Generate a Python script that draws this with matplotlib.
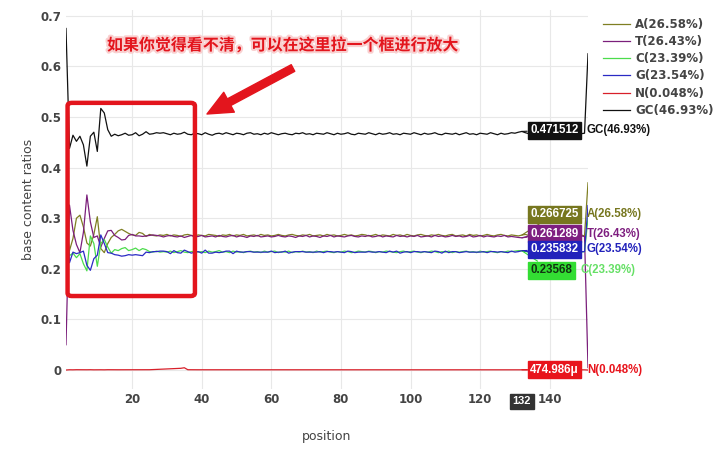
import matplotlib
matplotlib.use('Agg')
import matplotlib.pyplot as plt
from matplotlib.patches import FancyBboxPatch
import matplotlib.patheffects as pe

# position along the read
positions = list(range(1, 152))

base_a = [0.275, 0.236, 0.260, 0.300, 0.306, 0.283, 0.251, 0.245, 0.268, 0.303,
          0.240, 0.232, 0.250, 0.262, 0.268, 0.275, 0.278, 0.274, 0.270, 0.267,
          0.266, 0.272, 0.270, 0.264, 0.268, 0.266, 0.265, 0.267,
          0.266, 0.268, 0.265, 0.267, 0.266, 0.264, 0.267, 0.268, 0.266, 0.265,
          0.267, 0.266, 0.265, 0.268, 0.267, 0.266, 0.264, 0.267, 0.266, 0.268,
          0.265, 0.267, 0.266, 0.268, 0.265, 0.266, 0.267, 0.265, 0.268, 0.266,
          0.267, 0.265, 0.266, 0.268, 0.266, 0.265, 0.267, 0.268, 0.266, 0.265,
          0.267, 0.266, 0.268, 0.265, 0.266, 0.267, 0.265, 0.268, 0.266, 0.267,
          0.265, 0.266, 0.268, 0.266, 0.267, 0.265, 0.266, 0.268, 0.267, 0.265,
          0.266, 0.268, 0.265, 0.267, 0.266, 0.265, 0.268, 0.266, 0.267, 0.265,
          0.268, 0.266, 0.265, 0.267, 0.268, 0.266, 0.265, 0.267, 0.266, 0.268,
          0.266, 0.265, 0.267, 0.268, 0.265, 0.266, 0.267, 0.265, 0.268, 0.266,
          0.267, 0.265, 0.266, 0.268, 0.266, 0.265, 0.267, 0.268, 0.266, 0.265,
          0.267, 0.266, 0.265, 0.2667, 0.268, 0.266, 0.267, 0.265, 0.266, 0.268,
          0.265, 0.267, 0.266, 0.268, 0.265, 0.266, 0.267, 0.265, 0.268, 0.266,
          0.267, 0.265, 0.370]

base_t = [0.050, 0.326, 0.276, 0.248, 0.232, 0.272, 0.346, 0.293, 0.262, 0.265,
          0.243, 0.260, 0.275, 0.276, 0.266, 0.262, 0.257, 0.258, 0.266, 0.268,
          0.265, 0.265, 0.264, 0.265, 0.266, 0.267, 0.266, 0.265,
          0.263, 0.265, 0.266, 0.264, 0.263, 0.265, 0.262, 0.264, 0.266, 0.263,
          0.264, 0.266, 0.263, 0.264, 0.265, 0.263, 0.266, 0.264, 0.263, 0.265,
          0.266, 0.263, 0.265, 0.264, 0.262, 0.265, 0.264, 0.266, 0.263, 0.264,
          0.265, 0.263, 0.264, 0.266, 0.264, 0.263, 0.265, 0.264, 0.262, 0.265,
          0.264, 0.266, 0.263, 0.265, 0.264, 0.262, 0.265, 0.264, 0.266, 0.263,
          0.265, 0.264, 0.263, 0.265, 0.266, 0.264, 0.263, 0.265, 0.264, 0.266,
          0.263, 0.264, 0.266, 0.263, 0.265, 0.264, 0.263, 0.266, 0.264, 0.265,
          0.263, 0.265, 0.264, 0.266, 0.263, 0.264, 0.265, 0.263, 0.266, 0.264,
          0.265, 0.263, 0.264, 0.266, 0.264, 0.265, 0.263, 0.264, 0.266, 0.263,
          0.264, 0.266, 0.263, 0.265, 0.264, 0.263, 0.265, 0.264, 0.266, 0.263,
          0.264, 0.263, 0.262, 0.2613, 0.263, 0.265, 0.264, 0.266, 0.263, 0.265,
          0.264, 0.263, 0.265, 0.264, 0.266, 0.263, 0.264, 0.265, 0.263, 0.264,
          0.265, 0.264, 0.005]

base_c = [0.330, 0.226, 0.231, 0.222, 0.230, 0.210, 0.196, 0.265, 0.250, 0.205,
          0.250, 0.258, 0.243, 0.231, 0.238, 0.236, 0.240, 0.242, 0.236, 0.238,
          0.241, 0.236, 0.240, 0.238, 0.234, 0.233, 0.235, 0.233,
          0.234, 0.233, 0.235, 0.232, 0.234, 0.236, 0.233, 0.232, 0.234, 0.235,
          0.233, 0.234, 0.232, 0.235, 0.233, 0.234, 0.236, 0.233, 0.234, 0.232,
          0.235, 0.233, 0.234, 0.232, 0.234, 0.235, 0.233, 0.234, 0.232, 0.235,
          0.233, 0.234, 0.235, 0.232, 0.234, 0.233, 0.235, 0.232, 0.234, 0.233,
          0.235, 0.233, 0.234, 0.232, 0.235, 0.233, 0.234, 0.235, 0.233, 0.232,
          0.234, 0.233, 0.235, 0.234, 0.232, 0.233, 0.235, 0.234, 0.233, 0.235,
          0.234, 0.232, 0.234, 0.233, 0.235, 0.234, 0.233, 0.232, 0.234, 0.235,
          0.233, 0.234, 0.235, 0.233, 0.232, 0.234, 0.233, 0.235, 0.234, 0.232,
          0.234, 0.233, 0.235, 0.232, 0.234, 0.233, 0.234, 0.235, 0.233, 0.234,
          0.232, 0.235, 0.233, 0.234, 0.235, 0.233, 0.232, 0.234, 0.233, 0.235,
          0.234, 0.235, 0.236, 0.2357, 0.234, 0.233, 0.232, 0.234, 0.235, 0.233,
          0.234, 0.232, 0.233, 0.235, 0.234, 0.233, 0.234, 0.232, 0.235, 0.234,
          0.233, 0.234, 0.300]

base_g = [0.345, 0.212, 0.233, 0.230, 0.232, 0.235, 0.207, 0.197, 0.220, 0.227,
          0.267, 0.250, 0.232, 0.231, 0.228, 0.227, 0.225, 0.226, 0.228, 0.227,
          0.228, 0.227, 0.226, 0.233, 0.232, 0.234, 0.234, 0.235,
          0.235, 0.234, 0.230, 0.236, 0.232, 0.231, 0.237, 0.234, 0.231, 0.233,
          0.234, 0.231, 0.237, 0.231, 0.231, 0.233, 0.232, 0.233, 0.235, 0.235,
          0.230, 0.235, 0.233, 0.233, 0.234, 0.234, 0.233, 0.233, 0.233, 0.233,
          0.233, 0.235, 0.232, 0.233, 0.233, 0.235, 0.231, 0.233, 0.234, 0.234,
          0.234, 0.233, 0.233, 0.233, 0.233, 0.234, 0.232, 0.234, 0.234, 0.233,
          0.234, 0.233, 0.232, 0.235, 0.234, 0.232, 0.233, 0.233, 0.233, 0.234,
          0.233, 0.233, 0.234, 0.233, 0.232, 0.235, 0.233, 0.235, 0.231, 0.233,
          0.234, 0.232, 0.234, 0.234, 0.233, 0.234, 0.233, 0.232, 0.235, 0.234,
          0.231, 0.235, 0.232, 0.234, 0.234, 0.232, 0.233, 0.234, 0.233, 0.233,
          0.233, 0.233, 0.234, 0.232, 0.234, 0.234, 0.233, 0.234, 0.233, 0.232,
          0.235, 0.233, 0.234, 0.2358, 0.235, 0.234, 0.234, 0.234, 0.232, 0.232,
          0.234, 0.235, 0.233, 0.234, 0.233, 0.232, 0.234, 0.234, 0.232, 0.235,
          0.234, 0.234, 0.325]

base_n = [0.0000, 0.0005, 0.0004, 0.0006, 0.0005, 0.0004, 0.0005, 0.0006, 0.0004, 0.0005,
          0.0005, 0.0004, 0.0006, 0.0005, 0.0004, 0.0005, 0.0005, 0.0006, 0.0004, 0.0005,
          0.0005, 0.0006, 0.0005, 0.0004, 0.0006, 0.0008, 0.0012, 0.0015, 0.0018, 0.0021,
          0.0024, 0.0026, 0.0030, 0.0034, 0.0045, 0.0006, 0.0005, 0.0004, 0.0005, 0.0005,
          0.0004, 0.0005, 0.0006, 0.0005, 0.0004, 0.0005, 0.0005, 0.0004, 0.0006, 0.0005,
          0.0005, 0.0004, 0.0005, 0.0006, 0.0005, 0.0004, 0.0005, 0.0005, 0.0006, 0.0004,
          0.0005, 0.0005, 0.0004, 0.0006, 0.0005, 0.0005, 0.0004, 0.0005, 0.0006, 0.0005,
          0.0004, 0.0005, 0.0005, 0.0006, 0.0004, 0.0005, 0.0005, 0.0004, 0.0006, 0.0005,
          0.0005, 0.0004, 0.0005, 0.0006, 0.0005, 0.0004, 0.0005, 0.0005, 0.0006, 0.0004,
          0.0005, 0.0005, 0.0004, 0.0006, 0.0005, 0.0005, 0.0004, 0.0005, 0.0006, 0.0005,
          0.0004, 0.0005, 0.0005, 0.0006, 0.0004, 0.0005, 0.0005, 0.0004, 0.0006, 0.0005,
          0.0005, 0.0004, 0.0005, 0.0006, 0.0005, 0.0004, 0.0005, 0.0005, 0.0006, 0.0004,
          0.0005, 0.0005, 0.0004, 0.0006, 0.0005, 0.0005, 0.0004, 0.0005, 0.0006, 0.0005,
          0.0004, 0.000475, 0.0005, 0.0006, 0.0004, 0.0005, 0.0005, 0.0004, 0.0006, 0.0005,
          0.0005, 0.0004, 0.0005, 0.0006, 0.0005, 0.0004, 0.0005, 0.0005, 0.0006, 0.0004,
          0.0000]

base_gc = [0.675, 0.438, 0.464, 0.452, 0.462, 0.445, 0.403, 0.462, 0.470, 0.432,
           0.517, 0.508, 0.475, 0.462, 0.466, 0.463, 0.465, 0.468, 0.464, 0.465,
           0.469, 0.463, 0.466, 0.471, 0.466, 0.467, 0.469, 0.468,
           0.469, 0.467, 0.465, 0.468, 0.466, 0.467, 0.470, 0.466, 0.465, 0.468,
           0.467, 0.465, 0.469, 0.466, 0.464, 0.467, 0.468, 0.466, 0.469, 0.467,
           0.465, 0.468, 0.467, 0.465, 0.468, 0.469, 0.466, 0.467, 0.465, 0.468,
           0.466, 0.469, 0.467, 0.465, 0.467, 0.468, 0.466, 0.465, 0.468, 0.467,
           0.469, 0.466, 0.467, 0.465, 0.468, 0.467, 0.466, 0.469, 0.467, 0.465,
           0.468, 0.466, 0.467, 0.469, 0.466, 0.465, 0.468, 0.467, 0.466, 0.469,
           0.467, 0.465, 0.468, 0.466, 0.467, 0.469, 0.466, 0.467, 0.465, 0.468,
           0.467, 0.466, 0.469, 0.467, 0.465, 0.468, 0.466, 0.467, 0.469, 0.466,
           0.465, 0.468, 0.467, 0.466, 0.468, 0.465, 0.467, 0.469, 0.466, 0.467,
           0.465, 0.468, 0.467, 0.466, 0.469, 0.467, 0.465, 0.468, 0.466, 0.467,
           0.469, 0.468, 0.470, 0.4715, 0.469, 0.467, 0.466, 0.468, 0.467, 0.465,
           0.468, 0.467, 0.466, 0.469, 0.467, 0.465, 0.468, 0.466, 0.467, 0.469,
           0.467, 0.468, 0.625]

series_names = ['A(26.58%)', 'T(26.43%)', 'C(23.39%)', 'G(23.54%)', 'N(0.048%)', 'GC(46.93%)']
series_data = [base_a, base_t, base_c, base_g, base_n, base_gc]
line_colors = ['#7f7f22', '#7b1f7b', '#4cdc4c', '#2a2ac4', '#d8202a', '#111111']

# hover readout at position 132
hover_pos = 132
hover_values = [0.266725, 0.261289, 0.23568, 0.235832, 0.000474986, 0.471512]
hover_texts = ['0.266725', '0.261289', '0.23568', '0.235832', '474.986\u03bc', '0.471512']
box_colors = ['#77771f', '#7e1f80', '#33dd33', '#2222bb', '#e8141c', '#111111']
box_text_colors = ['white', 'white', '#113311', 'white', 'white', 'white']
name_colors = ['#77771f', '#7e1f80', '#66e066', '#2222bb', '#e8141c', '#111111']
hover_dy = [15, 3, -14, 1, 0, 1]   # points, labels pushed apart like plotly does

note_text = '如果你觉得看不清，可以在这里拉一个框进行放大'

for s in series_data:
    assert len(s) == len(positions)

fig = plt.figure(figsize=(7.2, 4.49), dpi=100)
ax = fig.add_axes([66 / 720, 1 - 389 / 449, 522 / 720, 379.5 / 449])

for vals, name, col in zip(series_data, series_names, line_colors):
    ax.plot(positions, vals, color=col, lw=0.9, label=name)

ax.set_xlim(1, 151)
ax.set_ylim(-0.0375, 0.7125)
ax.set_xticks([20, 40, 60, 80, 100, 120, 140])
ax.set_yticks([0, 0.1, 0.2, 0.3, 0.4, 0.5, 0.6, 0.7])
ax.set_yticklabels(['0', '0.1', '0.2', '0.3', '0.4', '0.5', '0.6', '0.7'])
ax.grid(color='#e8e8e8', lw=0.8)
ax.set_axisbelow(True)
for sp in ax.spines.values():
    sp.set_visible(False)
ax.tick_params(length=0, labelsize=8.5, labelcolor='#444444', pad=3)
for lab in ax.get_xticklabels() + ax.get_yticklabels():
    lab.set_fontweight('bold')
ax.set_xlabel('position', fontsize=9, color='#444444', labelpad=17)
ax.set_ylabel('base content ratios', fontsize=9, color='#444444', labelpad=4)

leg = ax.legend(loc='upper left', bbox_to_anchor=(598 / 720, 1 - 13 / 449),
                bbox_transform=fig.transFigure, frameon=False, handlelength=2.3,
                handletextpad=0.45, labelspacing=0.36, borderaxespad=0,
                prop={'weight': 'bold', 'size': 8.5})
for t in leg.get_texts():
    t.set_color('#444444')

# hover labels
for val, txt, bc, tc, nc, dy, name in zip(hover_values, hover_texts, box_colors,
                                         box_text_colors, name_colors, hover_dy, series_names):
    box = ax.annotate(txt, xy=(hover_pos, val), xytext=(6, dy), textcoords='offset points',
                      ha='left', va='center', color=tc, fontsize=8.3, fontweight='bold',
                      family='Liberation Sans',
                      bbox=dict(boxstyle='square,pad=0.22', fc=bc, ec=bc),
                      arrowprops=dict(arrowstyle='-', color=bc, lw=0.8, shrinkA=0, shrinkB=0),
                      annotation_clip=False, zorder=6)
    ax.annotate(name, xy=(1, 0.5), xycoords=box.get_bbox_patch(), xytext=(4, 0),
                textcoords='offset points', ha='left', va='center', color=nc,
                fontsize=8.3, fontweight='bold', family='Liberation Sans',
                annotation_clip=False, zorder=6)

ax.annotate(str(hover_pos), xy=(hover_pos, 0), xycoords=('data', 'axes fraction'),
            xytext=(0, -9), textcoords='offset points', ha='center', va='center',
            color='white', fontsize=8, fontweight='bold', family='Liberation Sans',
            bbox=dict(boxstyle='square,pad=0.25', fc='#333333', ec='#333333'),
            annotation_clip=False, zorder=6)

# the red zoom hint
red = '#e3151d'
rect = FancyBboxPatch((0.003, 0.245), 0.244, 0.509, boxstyle='round,pad=0,rounding_size=0.008',
                      transform=ax.transAxes, fc='none', ec=red, lw=3.2, zorder=7,
                      clip_on=False)
ax.add_patch(rect)

fig.text(283 / 720, 1 - 45 / 449, note_text, ha='center', va='center', color=red,
         fontsize=11.5, fontweight='bold', family=['Noto Sans CJK SC', 'DejaVu Sans'],
         path_effects=[pe.withStroke(linewidth=3, foreground='#f9d0d0')])

ax.annotate('', xy=(207, 449 - 114), xycoords='figure pixels',
            xytext=(293, 449 - 68), textcoords='figure pixels',
            arrowprops=dict(arrowstyle='simple,head_length=1.0,head_width=0.9,tail_width=0.3',
                            color=red, mutation_scale=18, shrinkA=0, shrinkB=0),
            annotation_clip=False, zorder=7)

fig.savefig('out.png', dpi=100)
